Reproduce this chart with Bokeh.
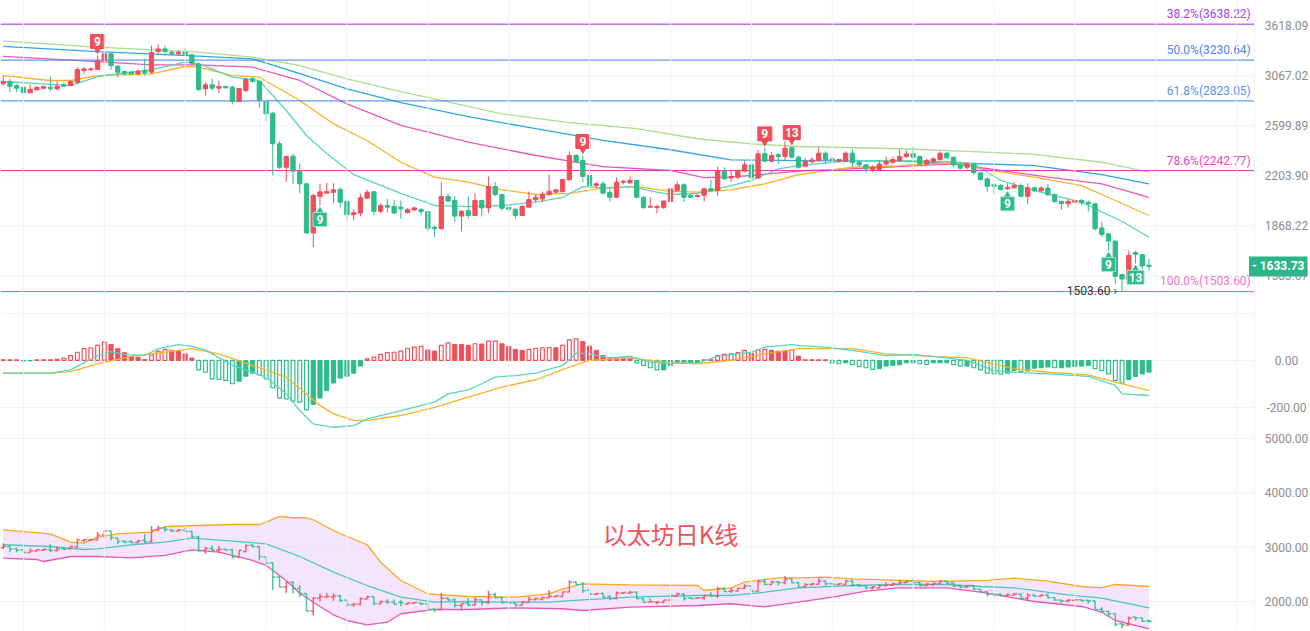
import math
from bokeh.plotting import figure
from bokeh.layouts import column
from bokeh.models import (Range1d, Label, Span, ColumnDataSource, LogScale, LinearScale)
from bokeh.embed import file_html
from bokeh.resources import INLINE
from bokeh.core.properties import value

# ---------------- data ----------------
opens = [2987,3010,2970,2954,2900,2928,2944,2954,2938,2977,2970,3003,3121,3128,3131,3226,3298,3166,3111,3104,
         3087,3121,3104,3325,3352,3316,3298,3316,3287,3187,2938,2977,2944,2960,2954,2818,2922,3037,3010,2820,
         2711,2450,2267,2352,2236,2146,1825,2060,2081,2087,2106,2025,1938,1949,2047,2090,1960,1998,1991,1987,
         1951,1969,1971,1958,1860,1850,2058,2031,1929,1965,1933,2031,1982,2127,2071,1984,1973,1933,1987,2036,
         2042,2071,2088,2092,2175,2357,2318,2206,2134,2146,2085,2053,2158,2153,2170,2053,1987,1984,1984,2025,
         2099,2139,2065,2058,2067,2111,2099,2238,2188,2194,2238,2285,2188,2370,2312,2365,2349,2418,2344,2275,
         2310,2318,2375,2331,2313,2313,2375,2305,2285,2250,2250,2292,2305,2318,2349,2370,2349,2292,2310,2326,
         2375,2344,2285,2267,2292,2226,2182,2139,2134,2111,2118,2134,2060,2118,2097,2116,2071,2025,2010,2020,
         2031,2020,2010,1855,1819,1776,1590,1567,1710,1698,1640]
highs = [3070,3037,2987,2963,2980,2963,2970,3060,3013,2997,3020,3156,3156,3156,3280,3316,3305,3180,3121,3121,
         3138,3244,3390,3401,3390,3334,3334,3364,3298,3208,3003,3037,3020,2970,2970,2945,3047,3053,3020,2836,
         2720,2471,2357,2370,2297,2153,2077,2146,2153,2150,2122,2031,1976,2077,2104,2095,2013,2042,2036,2031,
         1982,1991,1982,1962,1870,2158,2080,2060,1965,2058,2080,2036,2199,2160,2077,1998,1980,1998,2092,2072,
         2092,2213,2111,2180,2390,2370,2357,2238,2158,2165,2118,2190,2175,2199,2177,2060,2053,2005,2031,2113,
         2165,2150,2080,2072,2118,2175,2272,2267,2248,2248,2318,2297,2400,2417,2383,2375,2471,2428,2357,2339,
         2344,2423,2390,2344,2331,2390,2405,2318,2292,2280,2318,2349,2349,2403,2396,2428,2357,2331,2344,2390,
         2383,2349,2305,2305,2305,2230,2190,2150,2146,2150,2158,2150,2150,2127,2129,2146,2080,2031,2042,2038,
         2042,2031,2015,1895,1823,1780,1594,1722,1720,1703,1675]
lows = [2970,2906,2906,2896,2896,2922,2932,2915,2922,2954,2963,2987,3087,3121,3128,3180,3128,3053,3070,3070,
        3070,3070,3087,3298,3280,3280,3287,3280,3173,2915,2874,2922,2896,2938,2790,2812,2906,3000,2759,2640,
        2206,2255,2158,2146,2080,1818,1740,1998,2077,2012,1987,1901,1901,1927,2042,1933,1947,1954,1940,1912,
        1947,1960,1933,1833,1799,1845,2020,1890,1835,1912,1927,1927,1951,2060,1965,1958,1912,1929,1984,2020,
        2020,2065,2081,2088,2170,2302,2158,2104,2118,2077,2025,2049,2141,2146,2049,1976,1984,1947,1976,2013,
        2092,2020,2049,2049,2025,2088,2065,2177,2158,2177,2230,2182,2182,2305,2305,2292,2318,2336,2255,2267,
        2292,2310,2292,2302,2305,2305,2267,2267,2226,2230,2243,2280,2292,2310,2339,2331,2285,2285,2292,2318,
        2331,2267,2250,2250,2213,2170,2090,2077,2099,2104,2111,2053,2007,2090,2090,2060,2016,1969,1984,2010,
        1998,1960,1839,1799,1722,1542,1503.6,1559,1650,1620,1612]
closes = [3010,2963,2943,2900,2932,2954,2960,2938,2963,2963,3010,3131,3138,3138,3226,3298,3173,3104,3094,3087,
          3114,3097,3312,3352,3325,3298,3316,3287,3197,2932,2977,2944,2960,2948,2818,2941,3030,3010,2827,2705,
          2450,2267,2349,2238,2146,1825,2065,2090,2092,2104,2020,1938,1951,2050,2088,1960,1998,1987,1949,1976,
          1971,1982,1958,1853,1850,2058,2027,1929,1961,1933,2031,1982,2127,2071,1980,1973,1933,1991,2038,2053,
          2072,2094,2104,2177,2357,2310,2199,2134,2146,2081,2053,2158,2165,2170,2053,1984,1993,1991,2027,2111,
          2139,2053,2053,2065,2111,2099,2238,2182,2199,2243,2285,2190,2370,2312,2357,2349,2415,2344,2267,2310,
          2323,2375,2326,2318,2326,2375,2302,2285,2255,2267,2292,2310,2326,2349,2370,2344,2292,2318,2331,2375,
          2339,2285,2260,2292,2226,2177,2129,2129,2106,2122,2134,2060,2118,2097,2116,2071,2025,2010,2025,2031,
          2016,2010,1850,1815,1776,1581,1567,1694,1700,1636,1633.73]

# moving averages on the price panel (sampled at candle indices)
ma_teal_x = [0,10,14,22,27,29,34,38,42,45,48,52,59,64,69,74,79,83,86,89,93,97,99,103,108,111,115,118,126,133,141,144,148,153,160,166,170]
ma_teal_y = [3010,2970,3060,3131,3208,3194,3053,3020,2735,2518,2372,2213,2080,1998,1991,1998,2020,2053,2127,2118,2127,2088,2072,2080,2134,2170,2255,2280,2318,2318,2310,2292,2170,2099,2020,1895,1799]
ma_orange_x = [0,7,10,14,22,27,29,34,38,44,49,54,59,64,69,74,79,84,89,94,99,103,108,113,118,126,133,141,145,153,160,165,170]
ma_orange_y = [3070,3020,3020,3070,3087,3163,3156,3070,3053,2827,2617,2477,2305,2194,2158,2104,2072,2080,2116,2127,2094,2088,2104,2146,2213,2267,2280,2305,2255,2194,2134,2031,1933]
ma_pink_x = [0,14,22,29,37,44,51,59,69,79,89,99,104,108,118,133,141,148,155,163,170]
ma_pink_y = [3270,3215,3180,3180,3156,3020,2796,2603,2463,2357,2272,2243,2190,2194,2238,2272,2292,2243,2194,2146,2053]
ma_blue_x = [0,14,29,37,44,51,59,69,79,89,99,108,118,133,143,153,163,170]
ma_blue_y = [3380,3323,3273,3244,3090,2938,2808,2681,2575,2477,2402,2323,2318,2313,2297,2280,2213,2146]
ma_lgreen_x = [0,14,29,37,44,51,59,65,74,84,94,103,111,118,133,143,153,163,170]
ma_lgreen_y = [3439,3372,3316,3262,3173,3037,2912,2827,2705,2628,2575,2491,2450,2428,2410,2390,2365,2305,2231]

fib_levels = [3638.22, 3230.64, 2823.05, 2242.77, 1503.60]
fib_names = ["38.2%", "50.0%", "61.8%", "78.6%", "100.0%"]

sig_up_idx = [14, 86, 113, 117]
sig_up_txt = ["9", "9", "9", "13"]
sig_dn_idx = [47, 149, 164, 168]
sig_dn_txt = ["9", "9", "9", "13"]

main_ticks = [1583.67, 1868.22, 2203.90, 2599.89, 3067.02, 3618.09]
macd_ticks = [0, -200]
macd_grid = [200, 0, -200]
boll_ticks = [2000, 3000, 4000, 5000]

# MACD
macd_hist = [3,3,3,-2,-2,3,3,3,5,10,21,35,50,54,64,78,68,50,33,17,
             14,4,24,40,47,43,38,28,10,-40,-50,-78,-81,-85,-99,-88,-67,-54,-61,-78,
             -116,-160,-163,-173,-177,-210,-187,-160,-128,-96,-75,-67,-54,-24,7,14,26,33,35,40,
             52,57,60,45,40,64,75,68,68,64,71,70,82,83,71,60,47,43,47,52,
             54,55,54,64,88,92,81,61,43,21,11,11,11,10,-10,-21,-31,-40,-40,-21,
             -10,-10,-10,-10,3,3,21,26,28,33,43,31,45,47,43,40,40,45,18,3,
             3,3,3,-10,-14,-10,-18,-26,-31,-38,-35,-24,-21,-18,-10,-10,-14,-17,-10,-10,
             -10,-18,-24,-24,-31,-40,-54,-57,-58,-54,-43,-47,-45,-33,-31,-28,-31,-31,-28,-26,
             -24,-21,-35,-43,-57,-85,-96,-81,-68,-57,-50]
dif_x = [0,7,10,14,16,18,21,23,26,28,30,34,39,42,44,46,49,52,54,59,64,66,69,71,73,76,79,83,85,87,90,93,96,98,103,106,111,113,117,118,122,126,131,135,138,143,147,150,155,161,165,166,170]
dif_y = [-54,-54,-40,21,38,26,21,50,67,60,45,-21,-71,-142,-213,-270,-284,-277,-248,-213,-177,-142,-125,-99,-71,-64,-54,-21,31,28,11,17,-7,-11,-11,17,35,57,67,64,57,43,21,26,17,0,-43,-50,-57,-68,-106,-142,-149]
dea_x = [0,7,10,14,19,24,28,32,37,42,47,49,52,54,59,64,69,74,79,84,87,93,98,103,108,113,118,126,131,138,143,150,155,161,165,170]
dea_y = [-54,-54,-47,-14,17,35,50,28,-21,-71,-191,-227,-255,-255,-234,-199,-156,-113,-82,-28,0,11,-7,-14,0,28,50,50,28,17,11,-35,-50,-61,-92,-128]

# Bollinger bands
boll_up_x = [0,4,7,10,12,14,17,22,24,29,34,38,39,41,43,45,46,49,51,54,56,59,63,69,76,81,83,86,93,103,104,108,110,115,118,122,126,133,138,146,150,155,160,163,165,170]
boll_up_y = [3320,3276,3246,3092,3073,3184,3246,3276,3380,3399,3417,3417,3460,3565,3541,3541,3504,3307,3196,3044,2724,2387,2142,2092,2079,2142,2234,2326,2307,2294,2202,2252,2355,2436,2436,2447,2418,2387,2368,2387,2429,2374,2276,2252,2313,2276]
boll_mid_x = [0,7,12,14,19,24,28,34,39,44,49,54,59,64,69,74,81,86,93,103,108,113,118,126,133,140,145,150,158,163,170]
boll_mid_y = [3044,3012,2957,2970,3044,3092,3165,3110,3062,2828,2540,2294,2079,1987,2000,1987,1987,2031,2079,2110,2110,2171,2252,2294,2313,2313,2276,2252,2123,2061,1884]
boll_low_x = [0,5,6,10,14,19,24,28,32,37,39,42,44,47,49,51,54,57,59,64,69,76,83,86,93,103,108,113,118,123,128,133,140,145,153,160,163,165,170]
boll_low_y = [2797,2773,2736,2828,2828,2804,2847,2951,2907,2755,2663,2387,2153,1908,1755,1650,1571,1619,1774,1853,1853,1884,1866,1834,1895,1926,1958,1900,1987,2079,2190,2252,2252,2171,2000,1908,1803,1650,1497]

title_text = "以太坊日K线"
last_price = closes[-1]
low_price = min(lows)
low_idx = lows.index(low_price)

# ---------------- styling / layout ----------------
UP = "#ef4f5b"
DOWN = "#2dbc8a"
GRID = "#f2f2f2"
FONT = "Roboto"
W = 1310
PX_PER_BAR = 6.74
XA = -0.4
XB = XA + W / PX_PER_BAR          # full frame (includes price-scale strip)
XD = XA + 1254 / PX_PER_BAR       # right edge of the drawing area
XL = XA + 1286 / PX_PER_BAR       # centre of the price-scale labels
MAIN_H, MACD_H, BOLL_H = 300, 131, 199
xr = Range1d(XA, XB)
grid_ticks = list(range(3, 186, 12))


def make_fig(h, yr, log=False):
    p = figure(width=W, height=h, x_range=xr, y_range=yr, title=None,
               y_axis_type="log" if log else "linear",
               x_axis_location=None, y_axis_location=None, toolbar_location=None,
               output_backend="svg", min_border=0)
    p.y_scale = LogScale() if log else LinearScale()
    p.outline_line_color = None
    p.background_fill_color = "white"
    p.grid.visible = False
    for g in grid_ticks + [XD]:
        p.add_layout(Span(location=g, dimension="height", line_color=GRID, line_width=1))
    return p


def scale_labels(p, ticks, grid_vals=None):
    gv = ticks if grid_vals is None else grid_vals
    p.segment(x0=[XA] * len(gv), y0=gv, x1=[XD] * len(gv), y1=gv, line_color=GRID, line_width=1)
    p.text(x=[XL] * len(ticks), y=ticks, text=[f"{t:.2f}" for t in ticks], text_color="#8c8c8c",
           text_font=value(FONT), text_font_size="12px", text_align="center", text_baseline="middle")


n = len(closes)
idx = list(range(n))
colors = [UP if c >= o else DOWN for o, c in zip(opens, closes)]
src = ColumnDataSource(dict(
    x=idx, o=opens, h=highs, l=lows, c=closes,
    top=[max(o, c) for o, c in zip(opens, closes)],
    bot=[min(o, c) for o, c in zip(opens, closes)],
    xl=[i - 0.42 for i in idx], xr=[i + 0.42 for i in idx],
    color=colors))

# ---------------- main price panel ----------------
Y0, Y1 = 1459.5, 3934.0
p1 = make_fig(MAIN_H, Range1d(Y0, Y1), log=True)
scale_labels(p1, main_ticks)

for lx, ly, col in [(ma_lgreen_x, ma_lgreen_y, "#a9dd8f"), (ma_blue_x, ma_blue_y, "#2fa6e6"),
                    (ma_pink_x, ma_pink_y, "#e859b6"), (ma_orange_x, ma_orange_y, "#f8b22c"),
                    (ma_teal_x, ma_teal_y, "#5bd5bd")]:
    p1.line(lx, ly, line_color=col, line_width=1.3)

fib_line_colors = ["#9a2fd8", "#3f7fe8", "#3f7fe8", "#e637c2", "#e45abf"]
fib_text_colors = ["#a244e0", "#4d86ea", "#5b90f0", "#e244c2", "#ee72cc"]
p1.segment(x0=[XA] * len(fib_levels), y0=fib_levels, x1=[XD] * len(fib_levels), y1=fib_levels,
           line_color=fib_line_colors, line_width=1)
p1.text(x=[XD - 0.55] * len(fib_levels), y=fib_levels,
        text=[f"{nm}({lv:.2f})" for nm, lv in zip(fib_names, fib_levels)],
        text_color=fib_text_colors, text_font=value(FONT), text_font_size="12px",
        text_align="right", text_baseline="bottom", y_offset=-3)

p1.segment("x", "h", "x", "l", line_color="color", line_width=1, source=src)
p1.vbar(x="x", width=0.64, top="top", bottom="bot", fill_color="color", line_color="color", source=src)

ppl = MAIN_H / math.log(Y1 / Y0)
up_y = [highs[i] * math.exp(14 / ppl) for i in sig_up_idx]
up_ay = [highs[i] * math.exp(6 / ppl) for i in sig_up_idx]
dn_y = [lows[i] * math.exp(-14 / ppl) for i in sig_dn_idx]
dn_ay = [lows[i] * math.exp(-6 / ppl) for i in sig_dn_idx]
up_w = [14 if len(t) == 1 else 17 for t in sig_up_txt]
dn_w = [14 if len(t) == 1 else 17 for t in sig_dn_txt]
p1.scatter(sig_up_idx, up_ay, marker="inverted_triangle", size=7, fill_color=UP, line_color=UP)
p1.rect(sig_up_idx, up_y, width=up_w, height=14, width_units="screen", height_units="screen",
        fill_color=UP, line_color=UP)
p1.text(sig_up_idx, up_y, text=sig_up_txt, text_color="white", text_font=value(FONT),
        text_font_size="12px", text_align="center", text_baseline="middle", text_font_style="bold")
p1.scatter(sig_dn_idx, dn_ay, marker="triangle", size=7, fill_color=DOWN, line_color=DOWN)
p1.rect(sig_dn_idx, dn_y, width=dn_w, height=14, width_units="screen", height_units="screen",
        fill_color=DOWN, line_color="#a5e3cb")
p1.text(sig_dn_idx, dn_y, text=sig_dn_txt, text_color="white", text_font=value(FONT),
        text_font_size="12px", text_align="center", text_baseline="middle", text_font_style="bold")

p1.add_layout(Label(x=low_idx, y=low_price, text=f"{low_price:.2f}  \u203a", text_align="right",
                    text_baseline="middle", x_offset=-2, text_color="#333333",
                    text_font=FONT, text_font_size="12px"))
p1.add_layout(Label(x=XB, y=last_price, text=f"- {last_price:.2f}", text_align="right",
                    text_baseline="middle", x_offset=-3, text_color="white",
                    text_font=FONT, text_font_size="12px", text_font_style="bold",
                    background_fill_color="#2db58a", padding=3))

# ---------------- MACD panel ----------------
p2 = make_fig(MACD_H, Range1d(-302, 255))
scale_labels(p2, macd_ticks, macd_grid)
p2.segment(x0=[XA], y0=[-302], x1=[XB], y1=[-302], line_color="#eeeeee", line_width=1)
hollow = []
for i, v in enumerate(macd_hist):
    if i == 0:
        hollow.append(False)
    else:
        prev = macd_hist[i - 1]
        hollow.append((v > 0) != (prev > 0) or abs(v) > abs(prev))
hcol = [UP if v > 0 else DOWN for v in macd_hist]
solid_src = ColumnDataSource(dict(x=[i for i in idx if not hollow[i]],
                                  top=[macd_hist[i] for i in idx if not hollow[i]],
                                  color=[hcol[i] for i in idx if not hollow[i]]))
hollow_src = ColumnDataSource(dict(x=[i for i in idx if hollow[i]],
                                   top=[macd_hist[i] for i in idx if hollow[i]],
                                   color=[hcol[i] for i in idx if hollow[i]]))
p2.vbar(x="x", width=0.62, top="top", bottom=0, fill_color="color", line_color="color", source=solid_src)
p2.vbar(x="x", width=0.56, top="top", bottom=0, fill_color="white", line_color="color",
        line_width=1.2, source=hollow_src)
p2.line(dea_x, dea_y, line_color="#f8b22c", line_width=1.3)
p2.line(dif_x, dif_y, line_color="#5bd5bd", line_width=1.3)

# ---------------- Bollinger panel ----------------
p3 = make_fig(BOLL_H, Range1d(1466, 5129))
scale_labels(p3, boll_ticks)
p3.patch(boll_up_x + boll_low_x[::-1], boll_up_y + boll_low_y[::-1], fill_color="#ecd4fb",
         fill_alpha=0.6, line_color=None)
p3.line(boll_up_x, boll_up_y, line_color="#f7a823", line_width=1.3)
p3.line(boll_mid_x, boll_mid_y, line_color="#4cc6c2", line_width=1.3)
p3.line(boll_low_x, boll_low_y, line_color="#e857b6", line_width=1.3)
p3.segment("x", "l", "x", "h", line_color="color", line_width=1.5, line_alpha=0.85, source=src)
p3.segment("xl", "o", "x", "o", line_color="color", line_width=1.5, line_alpha=0.85, source=src)
p3.segment("x", "c", "xr", "c", line_color="color", line_width=1.5, line_alpha=0.85, source=src)
p3.add_layout(Label(x=99, y=3252, text=title_text, text_align="center", text_baseline="middle",
                    text_color="#f0525c", text_font="Noto Sans CJK SC", text_font_size="24px"))

layout = column(p1, p2, p3, spacing=0)
open("out.html", "w").write(file_html(layout, INLINE))
